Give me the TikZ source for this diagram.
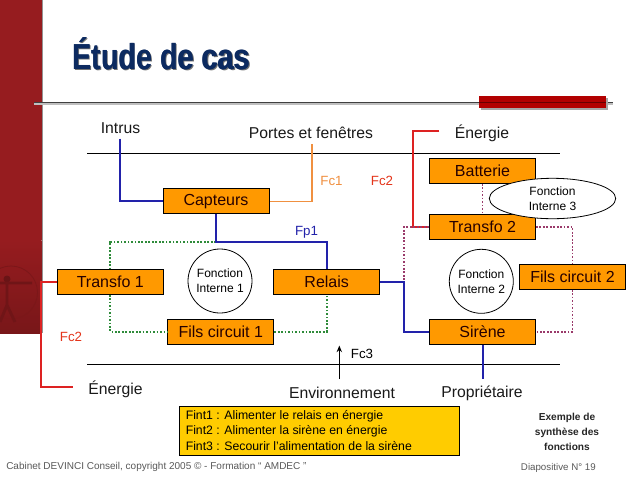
\documentclass[tikz,border=0pt]{standalone}
\usepackage{graphicx}
\usepackage{fontspec}
\setmainfont{Liberation Sans}
\usetikzlibrary{arrows.meta,shapes.geometric}
\definecolor{bandred}{HTML}{961C1F}
\definecolor{boxor}{HTML}{FF9900}
\definecolor{boxye}{HTML}{FFCC00}
\definecolor{wireblue}{HTML}{2222AA}
\definecolor{wireorange}{HTML}{F09040}
\definecolor{wirered}{HTML}{DD2222}
\definecolor{wiregreen}{HTML}{2E8B3A}
\definecolor{wirepurple}{HTML}{9A3A6A}
\definecolor{titleblue}{HTML}{0C2A60}
\newcommand{\titletext}{\scalebox{.8}[1]{Étude de cas}}
\tikzset{x=0.75pt,y=-0.75pt,
 block/.style={draw=black,fill=boxor,line width=.75pt,minimum width=79.5pt,minimum height=18.75pt,inner sep=0pt,font=\fontsize{12}{13}\selectfont,text=black!85!red},
 lab/.style={inner sep=0pt,font=\fontsize{11.8}{13}\selectfont,text=black!90},
 fc/.style={inner sep=0pt,font=\fontsize{10}{12}\selectfont},
 fonc/.style={draw=black,line width=.6pt,fill=white,align=center,inner sep=0pt,font=\fontsize{9}{11.2}\selectfont},
 blue/.style={draw=wireblue,line width=1.5pt},
 green/.style={draw=wiregreen,line width=1.3pt,dash pattern=on 1.3pt off 1.3pt},
 purp/.style={draw=wirepurple,line width=1.3pt,dash pattern=on 1.3pt off 1.3pt},
 org/.style={draw=wireorange,line width=1.2pt},
 rd/.style={draw=wirered,line width=1.3pt},
 notetext/.style={anchor=west,inner sep=0pt,font=\fontsize{9.2}{11}\selectfont},
 titlefont/.style={anchor=base west,inner sep=0pt,font=\bfseries\fontsize{27}{30}\selectfont}}
\begin{document}
\begin{tikzpicture}
\useasboundingbox (0,0) rectangle (638,479);
\fill[white] (0,0) rectangle (638,479);
% band
\fill[bandred] (0,0) rectangle (41.5,240);
\shade[top color=bandred,bottom color=bandred!80!black] (0,240) rectangle (41.5,333);
\fill[black!60,opacity=.7] (41.5,0) rectangle (43,333);
\begin{scope}
\clip (0,0) rectangle (41.5,333);
\draw[black!18!bandred,line width=.6pt] (11,292.5) circle (26.5);
\fill[black!30!bandred] (7,279) circle (3.5);
\draw[black!25!bandred,line width=2.2pt] (7,282) -- (7,305) (-8,283) -- (32,283) (7,305) -- (0,322) (7,305) -- (15,322);
\end{scope}
% title rule
\fill[black!25] (34,103) rectangle (613,104.5);
\draw[black!75,line width=.9pt] (34,102.3) -- (613,102.3);
\fill[black!35] (480.5,98) rectangle (608,110);
\fill[red!70!black] (478.7,96) rectangle (606,108);
\draw[red!40!black,line width=1.2pt] (478.7,102.3) -- (606,102.3);
\node[titlefont,text=black!55] at (73.2,70) {\titletext};
\node[titlefont,text=titleblue] at (72.4,69) {\titletext};
\node[titlefont,text=titleblue] at (72,69) {\titletext};
% lines
\draw[black,line width=.75pt] (87.3,153.3) -- (560,153.3);
\draw[black,line width=.75pt] (87.3,364.7) -- (560,364.7);
% boxes
\node[block] (cap) at (216,201.3) {Capteurs};
\node[block] (bat) at (482.5,170.8) {Batterie};
\node[block] (tr2) at (482.5,226.8) {Transfo 2};
\node[block] (tr1) at (110.3,281.8) {Transfo 1};
\node[block] (rel) at (326.7,281.8) {Relais};
\node[block] (fc1) at (220.8,331.7) {Fils circuit 1};
\node[block] (sir) at (482.5,331.8) {Sirène};
\node[block] (fc2) at (572.5,276.8) {Fils circuit 2};
% coordinates
\coordinate (intrus) at (120.3,138.7);
\coordinate (portes) at (311.7,144);
\coordinate (ener2) at (439.3,130.7);
\coordinate (ener1) at (72.7,387);
\coordinate (prop) at (482.5,379);
\coordinate (fp) at (326.7,241.7);
% wires
\draw[blue] (intrus) |- (cap.west);
\draw[org] (portes) |- (cap.east);
\draw[green] (216,241.7) -- (110.3,241.7) -- (tr1.north);
\draw[green] (tr1.south) -- (110.3,331.7) -- (fc1.west);
\draw[green] (fc1.east) -- (326.7,331.7) -- (rel.south);
\draw[blue] (cap.south) |- (fp) -- (rel.north);
\draw[rd] (ener2) -| (413.3,226.8) -- (tr2.west);
\draw[rd] (tr1.west) -- (41,281.8) -- (41,387) -- (ener1);
\draw[blue] (rel.east) -- (404.3,281.8) |- (sir.west);
\draw[blue] (sir.south) -- (prop);
\draw[purp] (bat.south) -- (tr2.north);
\draw[purp] (tr2.west) -- (404.3,226.8) -- (404.3,281.8);
\draw[purp] (tr2.east) -- (572.5,226.8) -- (fc2.north);
\draw[purp] (fc2.south) -- (572.5,331.8) -- (sir.east);
% circles
\node[fonc,circle,minimum size=48pt] (f1) at (220,281) {Fonction\\Interne 1};
\node[fonc,circle,minimum size=48pt] (f2) at (481.3,281.3) {Fonction\\Interne 2};
\node[fonc,ellipse,minimum width=94.8pt,minimum height=30.3pt] (f3) at (552.5,198.5) {Fonction\\Interne 3};
% labels
\node[lab] at (120.5,128) {Intrus};
\node[lab] at (311,133) {Portes et fenêtres};
\node[lab] at (482,133) {Énergie};
\node[lab] at (115.5,389) {Énergie};
\node[lab] at (342,393) {Environnement};
\node[lab] at (482,393) {Propriétaire};
\node[fc,text=wireorange] at (331.5,181) {Fc1};
\node[fc,text=wirered!80!orange] at (382,181) {Fc2};
\node[fc,text=wirered!80!orange] at (71,337) {Fc2};
\node[fc,text=wireblue] at (306.5,232) {Fp1};
\node[fc] at (362,354) {Fc3};
\coordinate (fc3a) at (339.3,379);
\coordinate (fc3b) at (339.3,345.5);
\draw[-{Stealth[length=5pt,width=4pt]},line width=.75pt] (fc3a) -- (fc3b);
% yellow box
\node[draw=black,line width=.75pt,fill=boxye,anchor=north west,minimum width=210pt,minimum height=37pt,inner sep=0pt] (note) at (178.5,405.5) {};
\node[notetext] at (185.5,416) {Fint1 : Alimenter le relais en énergie};
\node[notetext] at (185.5,431) {Fint2 : Alimenter la sirène en énergie};
\node[notetext] at (185.5,446) {Fint3 : Secourir l’alimentation de la sirène};
\node[align=center,inner sep=0pt,font=\bfseries\fontsize{7.6}{11.2}\selectfont,text=black!85] at (567,432) {Exemple de\\synthèse des\\fonctions};
\node[anchor=west,inner sep=0pt,font=\fontsize{7.5}{10}\selectfont,text=black!65] at (6,467) {Cabinet DEVINCI Conseil, copyright 2005 © - Formation “ AMDEC ”};
\node[anchor=east,inner sep=0pt,font=\fontsize{7.3}{10}\selectfont,text=black!65] at (596,468) {Diapositive N° 19};
\end{tikzpicture}
\end{document}
